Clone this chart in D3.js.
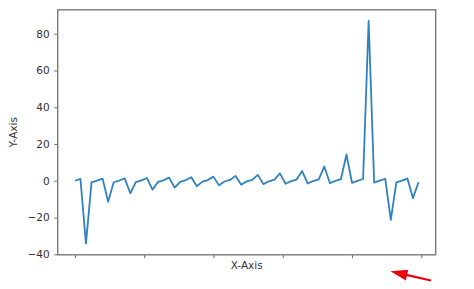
<!DOCTYPE html>
<html>
<head>
<meta charset="utf-8">
<script src="https://cdn.jsdelivr.net/npm/d3@7"></script>
<style>
  html, body { margin: 0; padding: 0; background: #fff; }
  svg { display: block; }
  text { font-family: "DejaVu Sans", sans-serif; }
</style>
</head>
<body>
<svg id="chart" width="474" height="289"></svg>
<script>
// x values (0 to 49.6, step 0.8) and y values
const xValues = [0,0.8,1.6,2.4,3.2,4,4.8,5.6,6.4,7.2,8,8.8,9.6,10.4,11.2,12,12.8,13.6,14.4,15.2,16,16.8,17.6,18.4,19.2,20,20.8,21.6,22.4,23.2,24,24.8,25.6,26.4,27.2,28,28.8,29.6,30.4,31.2,32,32.8,33.6,34.4,35.2,36,36.8,37.6,38.4,39.2,40,40.8,41.6,42.4,43.2,44,44.8,45.6,46.4,47.2,48,48.8,49.6];
const yValues = [0,1.03,-34.23,-0.92,0.06,1.16,-11.38,-0.81,0.12,1.3,-6.8,-0.72,0.18,1.47,-4.82,-0.64,0.24,1.68,-3.72,-0.56,0.3,1.93,-3.01,-0.48,0.37,2.24,-2.51,-0.41,0.43,2.64,-2.13,-0.35,0.5,3.19,-1.84,-0.28,0.58,4.0,-1.61,-0.22,0.66,5.29,-1.42,-0.16,0.75,7.75,-1.26,-0.1,0.84,14.28,-1.12,-0.04,0.95,86.95,-0.99,0.02,1.07,-21.3,-0.88,0.08,1.2,-9.46,-0.79];
const xTicks = [0,10,20,30,40,50];
const yTicks = [-40,-20,0,20,40,60,80];
const xLabel = "X-Axis";
const yLabel = "Y-Axis";

const svg = d3.select("#chart");
const L = 57.7, R = 435.7, T = 9.8, B = 254.8;

const xExt = d3.extent(xValues), yExt = d3.extent(yValues);
const xm = (xExt[1]-xExt[0])*0.05, ym = (yExt[1]-yExt[0])*0.05;
const x = d3.scaleLinear().domain([xExt[0]-xm, xExt[1]+xm]).range([L, R]);
const y = d3.scaleLinear().domain([yExt[0]-ym, yExt[1]+ym]).range([B, T]);

const spine = "#7a7a7a";
const txt = "#333";

// line
svg.append("path")
  .datum(xValues.map((v,i)=>[v, yValues[i]]))
  .attr("fill","none")
  .attr("stroke","#2f82bf")
  .attr("stroke-width",1.8)
  .attr("stroke-linejoin","round")
  .attr("d", d3.line().x(d=>x(d[0])).y(d=>y(d[1])));

// axes
const xAxis = svg.append("g").attr("transform",`translate(0,${B})`)
  .call(d3.axisBottom(x).tickValues(xTicks).tickFormat("").tickSize(3.5).tickSizeOuter(0));
const yAxis = svg.append("g").attr("transform",`translate(${L},0)`)
  .call(d3.axisLeft(y).tickValues(yTicks).tickFormat(d=>d<0?"\u2212"+(-d):d).tickSize(3.5).tickPadding(4.5).tickSizeOuter(0));
[xAxis,yAxis].forEach(g=>{
  g.select(".domain").remove();
  g.selectAll(".tick line").attr("stroke",spine).attr("stroke-width",1.1);
  g.selectAll(".tick text").attr("fill",txt).style("font-size","10.5px").style("font-family","DejaVu Sans, sans-serif");
});

// frame
svg.append("rect").attr("x",L).attr("y",T).attr("width",R-L).attr("height",B-T)
  .attr("fill","none").attr("stroke",spine).attr("stroke-width",1.4);

// labels
svg.append("text").attr("x",(L+R)/2).attr("y",269).attr("text-anchor","middle")
  .attr("fill",txt).style("font-size","10.5px").text(xLabel);
svg.append("text").attr("transform",`translate(17,${(T+B)/2}) rotate(-90)`).attr("text-anchor","middle")
  .attr("fill",txt).style("font-size","10.5px").text(yLabel);

// red arrow annotation
const tip = [390.5,271.3], tail = [431,280.5];
const dx = tip[0]-tail[0], dy = tip[1]-tail[1], len = Math.hypot(dx,dy);
const ux = dx/len, uy = dy/len, px = -uy, py = ux;
const hl = 17, hw = 5.5;
const bx = tip[0]-ux*hl, by = tip[1]-uy*hl;
svg.append("line").attr("x1",tail[0]).attr("y1",tail[1]).attr("x2",bx+ux*2).attr("y2",by+uy*2)
  .attr("stroke","#e8000b").attr("stroke-width",2.2);
svg.append("path").attr("d",`M${tip[0]},${tip[1]}L${bx+px*hw},${by+py*hw}L${bx-px*hw},${by-py*hw}Z`)
  .attr("fill","#e8000b");
</script>
</body>
</html>
